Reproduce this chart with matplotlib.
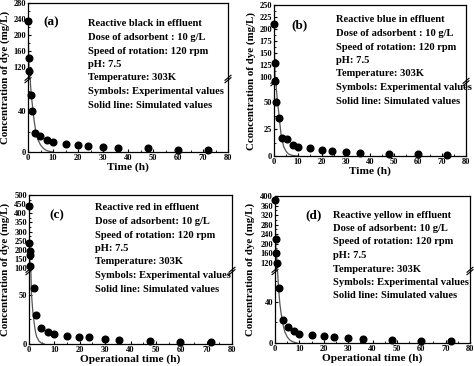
import numpy as np
import matplotlib
matplotlib.use("Agg")
import matplotlib.pyplot as plt
from matplotlib.ticker import MultipleLocator

plt.rcParams['font.family'] = ['Liberation Serif', 'DejaVu Serif']
plt.rcParams['font.weight'] = 'bold'
plt.rcParams['axes.linewidth'] = 0.9

W, H = 474, 366

# experimental values (time in h, concentration in mg/L)
t_a = [0, 0.25, 0.5, 1, 1.6, 2.7, 4.8, 7.4, 9.8, 15, 20, 24, 30, 36, 48, 60, 72]
c_a = [235, 142, 110, 56, 40, 19, 16, 12, 10, 8.2, 6.6, 6, 5, 4, 4, 2.3, 2]
t_b = [0, 0.25, 0.5, 1, 2, 3.5, 5.3, 7.8, 10, 15, 20, 24, 30, 36, 48, 60, 72]
c_b = [210, 130, 92, 50, 35, 16.5, 15.6, 10.7, 8.6, 7.5, 5.8, 4.9, 3.9, 3.2, 2, 1.6, 1.3]
t_c = [0, 0.1, 0.2, 0.3, 0.5, 1.8, 2.9, 4.9, 7.5, 9.7, 14.8, 19.6, 23.7, 29.8, 35.6, 47.7, 59.5, 71.7]
c_c = [440, 240, 195, 170, 110, 57, 29, 16, 12, 10, 7.7, 6.7, 6.7, 5.3, 4.3, 3, 2, 1.7]
t_d = [0, 0.25, 0.5, 0.75, 1.8, 3.1, 5.2, 7.8, 10, 15, 20, 24, 30, 36, 48, 60, 72]
c_d = [385, 220, 160, 120, 53, 22, 15.4, 12, 9, 7.4, 6.4, 5.8, 4.5, 3.5, 2.9, 1.9, 1.9]

# simulated values (solid line)
s_ta = [0, 0.25, 0.5, 1, 1.5, 2, 2.5, 3, 3.5, 4, 5, 6, 7, 8, 9, 10]
s_ca = [240, 150, 100, 66, 52, 41, 30, 22, 16, 12, 7, 4, 2, 1, 0.4, 0]
s_tb = [0, 0.25, 0.5, 1, 1.5, 2, 2.5, 3, 4, 5, 6, 7, 8, 10]
s_cb = [210, 130, 92, 62, 50, 40, 29, 19, 9, 4.5, 2, 1, 0.4, 0]
s_tc = [0, 0.1, 0.2, 0.3, 0.5, 0.75, 1, 1.5, 2, 2.5, 3, 4, 5, 6]
s_cc = [440, 250, 190, 150, 100, 72, 50, 33, 22, 13, 7.5, 2.7, 0.8, 0]
s_td = [0, 0.25, 0.5, 0.75, 1, 1.5, 2, 2.5, 3, 4, 5, 6, 7, 8, 9]
s_cd = [385, 220, 140, 90, 72, 52, 38, 29, 21, 11, 6, 3, 1.5, 0.6, 0]

info = ["Dose of adsorbent : 10 g/L", "Speed of rotation: 120 rpm", "pH: 7.5",
        "Temperature: 303K", "Symbols: Experimental values", "Solid line: Simulated values"]
info_cd = ["Dose of adsorbent: 10 g/L"] + info[1:]

panels = [
    dict(box=(28, 228, 3, 152), lo=(0, 72), hi=(90, 280), lo_ticks=40, hi_ticks=(120, 40),
         t=t_a, c=c_a, st=s_ta, sc=s_ca, tag="(a)", title="Reactive black in effluent", lines=info,
         ylabel="Concentration of dye (mg/L)", xlabel="Time (h)",
         tag_xy=(43, 22), txt_xy=(88, 24), ylab_x=5),
    dict(box=(274, 466, 5, 156), lo=(0, 69), hi=(90, 250), lo_ticks=25, hi_ticks=(100, 25),
         t=t_b, c=c_b, st=s_tb, sc=s_cb, tag="(b)", title="Reactive blue in effluent", lines=info,
         ylabel="Cconcentration of dye (mg/L)", xlabel="Time (h)",
         tag_xy=(291, 25), txt_xy=(336, 20), ylab_x=251),
    dict(box=(29, 232, 195, 344), lo=(0, 74), hi=(85, 500), lo_ticks=50, hi_ticks=(100, 50),
         t=t_c, c=c_c, st=s_tc, sc=s_cc, tag="(c)", title="Reactive red in effluent", lines=info_cd,
         ylabel="Concentration of dye (mg/L)", xlabel="Operational time (h)",
         tag_xy=(49, 215), txt_xy=(95, 208), ylab_x=5),
    dict(box=(275, 470, 196, 343), lo=(0, 70), hi=(85, 400), lo_ticks=40, hi_ticks=(120, 40),
         t=t_d, c=c_d, st=s_td, sc=s_cd, tag="(d)", title="Reactive yellow in effluent", lines=info_cd,
         ylabel="Concentration of dye (mg/L)", xlabel="Operational time (h)",
         tag_xy=(305, 215), txt_xy=(333, 215), ylab_x=250),
]

fig = plt.figure(figsize=(W / 100, H / 100), dpi=100)


def fx(px):
    return px / W


def fy(py):
    return 1 - py / H


def draw_panel(p):
    x0, x1, top, bot = p['box']
    lo_top = p['lo'][1]
    hi_bot, hi_top = p['hi']
    # lower segment takes about half of the panel height
    frac = 0.49
    hpx = bot - top
    brk = bot - frac * hpx
    ax_lo = fig.add_axes([fx(x0), fy(bot), fx(x1 - x0), (bot - brk) / H])
    ax_hi = fig.add_axes([fx(x0), fy(brk), fx(x1 - x0), (brk - top) / H])

    ax_lo.set_ylim(*p['lo'])
    ax_hi.set_ylim(hi_bot, hi_top)
    for ax in (ax_lo, ax_hi):
        ax.set_xlim(0, 80)
        ax.tick_params(direction='in', length=2.5, width=0.8, labelsize=6, pad=1.5,
                       top=False, right=False)
        ax.tick_params(which='minor', direction='in', length=1.5, width=0.6,
                       top=False, right=False)
        ax.xaxis.set_minor_locator(MultipleLocator(5))

    ax_lo.spines['top'].set_visible(False)
    ax_hi.spines['bottom'].set_visible(False)
    ax_hi.tick_params(axis='x', which='both', bottom=False, labelbottom=False)
    ax_lo.set_xticks(range(0, 81, 10))
    ax_lo.yaxis.set_major_locator(MultipleLocator(p['lo_ticks']))
    ax_lo.yaxis.set_minor_locator(MultipleLocator(p['lo_ticks'] / 2))
    start, step = p['hi_ticks']
    ax_hi.set_yticks(np.arange(start, hi_top + 1, step))
    ax_hi.yaxis.set_minor_locator(MultipleLocator(step / 2))
    for ax in (ax_lo, ax_hi):
        for lab in ax.get_xticklabels() + ax.get_yticklabels():
            lab.set_fontweight('bold')

    # simulated line on both segments
    for ax in (ax_lo, ax_hi):
        ax.plot(p['st'], p['sc'], color='#555555', lw=0.9)

    t = np.array(p['t'])
    c = np.array(p['c'])
    low = c <= lo_top
    ax_lo.plot(t[low], c[low], 'o', color='black', ms=4.8, clip_on=False, zorder=5)
    ax_hi.plot(t[~low], c[~low], 'o', color='black', ms=4.8, clip_on=False, zorder=5)

    # break marks on both side spines
    dx = 3 / (x1 - x0)
    dy = 2.5 / (brk - top)
    for xs in (0, 1):
        for off in (-1.2 / (brk - top), 1.2 / (brk - top)):
            ax_hi.plot([xs - dx, xs + dx], [off - dy, off + dy], color='black', lw=0.8,
                       transform=ax_hi.transAxes, clip_on=False, zorder=6)

    ax_lo.set_xlabel(p['xlabel'], fontsize=8.2, fontweight='bold', labelpad=0.5)
    fig.text(fx(p['ylab_x']), fy((top + bot) / 2), p['ylabel'], rotation=90,
             fontsize=7.8, fontweight='bold', ha='center', va='center')

    fig.text(fx(p['tag_xy'][0]), fy(p['tag_xy'][1]), p['tag'], fontsize=9.5,
             fontweight='bold', va='center')
    tx, ty = p['txt_xy']
    for i, line in enumerate([p['title']] + p['lines']):
        fig.text(fx(tx), fy(ty + i * 13.5), line, fontsize=7.6, fontweight='bold', va='center')


for p in panels:
    draw_panel(p)

fig.savefig("out.png", dpi=100)
